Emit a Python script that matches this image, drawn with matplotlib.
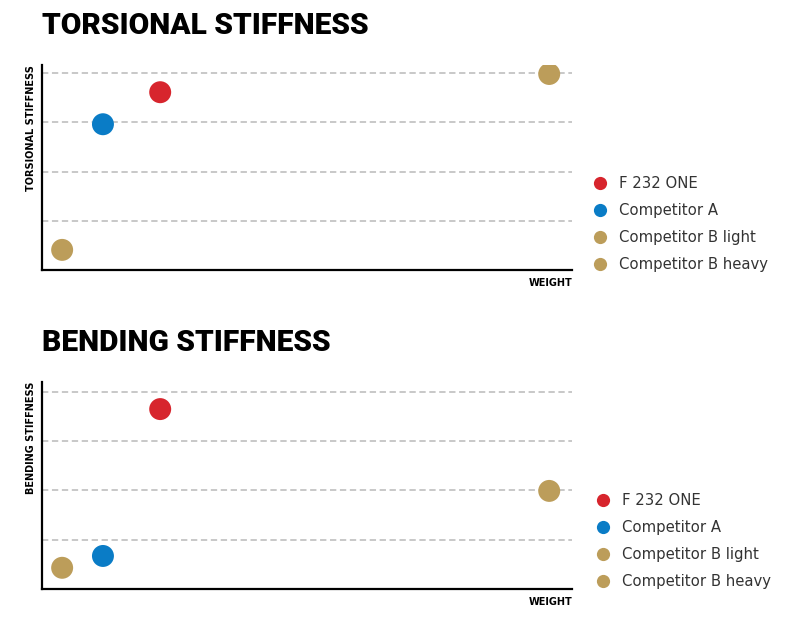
import matplotlib
matplotlib.use('Agg')
import matplotlib.pyplot as plt
from matplotlib.lines import Line2D

# --- data (arbitrary units) ---
names = ["F 232 ONE", "Competitor A", "Competitor B light", "Competitor B heavy"]
colors = ["#D7252D", "#0A7CC6", "#BC9D5A", "#BC9D5A"]
weight_torsion = [2.23, 1.15, 0.38, 9.57]
torsion = [3.61, 2.96, 0.41, 3.98]
weight_bending = [2.23, 1.15, 0.38, 9.57]
bending = [3.65, 0.67, 0.43, 1.99]

grid_levels = [1, 2, 3, 4]


def draw_panel(fig, rect, title, ylabel, xs, ys, ytop, legend_xy):
    ax = fig.add_axes(rect)
    for x, y, c in zip(xs, ys, colors):
        ax.scatter(x, y, s=250, color=c, edgecolors='none', zorder=3)
    for g in grid_levels:
        ax.axhline(g, color='#C4C4C4', lw=1.3, ls=(0, (3.5, 2)), zorder=1)
    ax.set_xlim(0, 10)
    ax.set_ylim(0, ytop)
    for s in ['top', 'right']:
        ax.spines[s].set_visible(False)
    for s in ['left', 'bottom']:
        ax.spines[s].set_linewidth(1.6)
        ax.spines[s].set_color('black')
    ax.set_xticks([])
    ax.set_yticks([])
    ax.text(-0.012, 1.0, ylabel, transform=ax.transAxes, rotation=90,
            ha='right', va='top', fontsize=7, fontweight='bold')
    ax.text(1.0, -0.04, "WEIGHT", transform=ax.transAxes,
            ha='right', va='top', fontsize=7, fontweight='bold')
    fig.text(rect[0] + 0.0, rect[1] + rect[3] + 0.04, title,
             ha='left', va='bottom', fontsize=21.5, fontweight='black',
             family=['Roboto', 'DejaVu Sans'])
    handles = [Line2D([], [], marker='o', ls='none', color=c, markersize=9.5,
                      markeredgewidth=0) for c in colors]
    ax.legend(handles, names, loc='upper left', bbox_to_anchor=legend_xy,
              bbox_transform=fig.transFigure, frameon=False, fontsize=10.7,
              labelcolor='#333333', handletextpad=0.75, labelspacing=0.81,
              handlelength=1.0)
    return ax


fig = plt.figure(figsize=(8, 6.34), dpi=100)

draw_panel(fig, [0.0525, 0.574, 0.6625, 0.3233], "TORSIONAL STIFFNESS",
           "TORSIONAL STIFFNESS", weight_torsion, torsion, 4.16, (0.724, 0.743))
draw_panel(fig, [0.0525, 0.071, 0.6625, 0.3265], "BENDING STIFFNESS",
           "BENDING STIFFNESS", weight_bending, bending, 4.2, (0.728, 0.243))

fig.savefig("out.png", dpi=100)
plt.close(fig)
